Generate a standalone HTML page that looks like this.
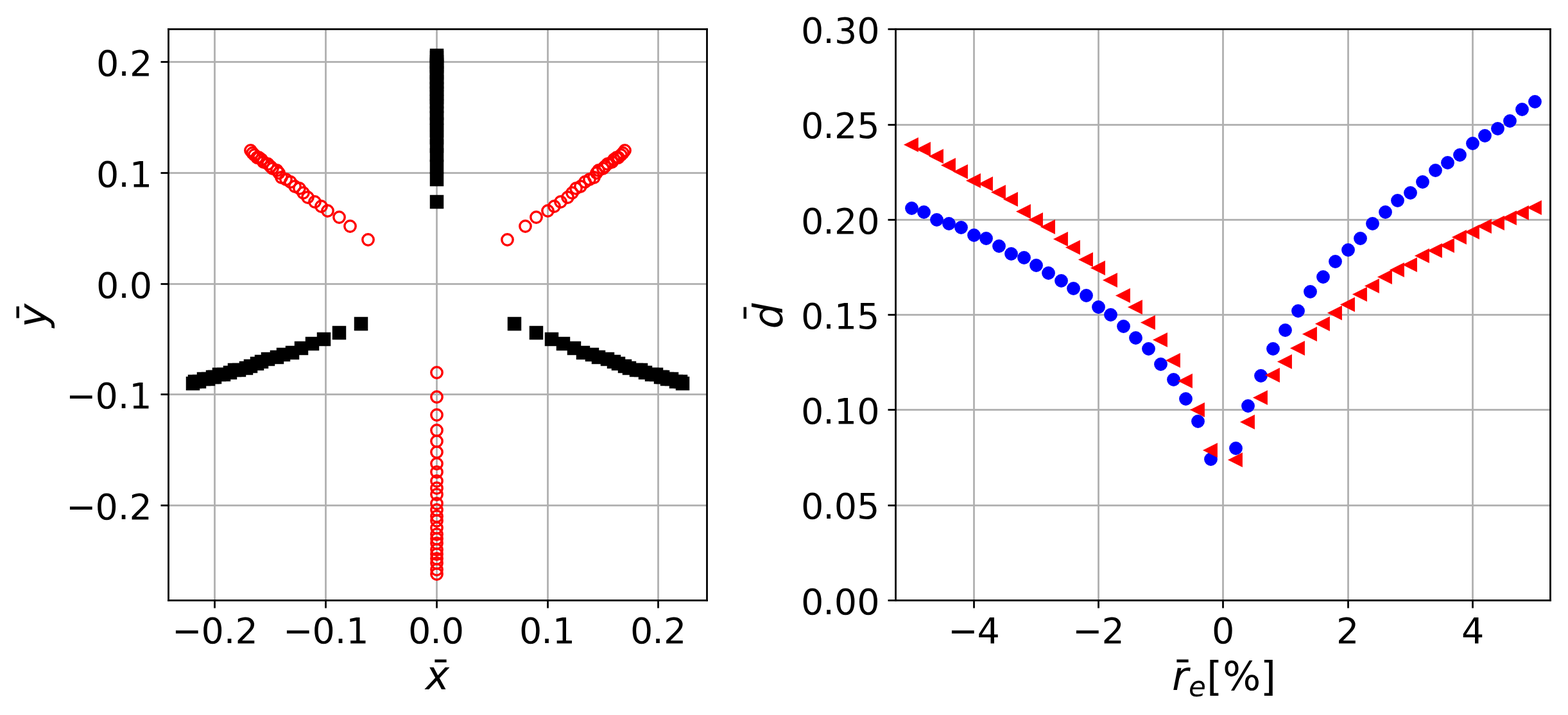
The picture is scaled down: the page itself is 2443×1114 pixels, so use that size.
<!DOCTYPE html>
<html lang="en">
<head>
<meta charset="utf-8">
<title>Figure</title>
<style>html,body{margin:0;padding:0;background:#fff}svg{display:block}text{white-space:pre}</style>
</head>
<body>
<svg xmlns="http://www.w3.org/2000/svg" width="2443" height="1114" viewBox="0 0 2443 1114" font-family="'DejaVu Sans','Liberation Sans',sans-serif" fill="#000">
<defs>
<rect id="sq" x="-10.736" y="-10.736" width="21.472" height="21.472" fill="#000"/>
<circle id="ring" r="8.681" fill="none" stroke="#f00" stroke-width="3.472"/>
<circle id="dot" r="10.417" fill="#00f"/>
<path id="tri" d="M-8.681 0L8.681 -8.681L8.681 8.681Z" fill="#f00" stroke="#f00" stroke-width="3.472" stroke-linejoin="miter" stroke-miterlimit="10"/>
</defs>
<rect x="0" y="0" width="2443" height="1114" fill="#fff"/>
<g id="ax1">
<clipPath id="clip1"><rect x="262.5" y="45.5" width="839" height="890"/></clipPath>
<g clip-path="url(#clip1)" fill="#b0b0b0">
<rect x="333.111" y="45.5" width="2.778" height="890"/>
<rect x="506.111" y="45.5" width="2.778" height="890"/>
<rect x="679.111" y="45.5" width="2.778" height="890"/>
<rect x="852.111" y="45.5" width="2.778" height="890"/>
<rect x="1024.111" y="45.5" width="2.778" height="890"/>
<rect x="262.5" y="786.111" width="839" height="2.778"/>
<rect x="262.5" y="613.111" width="839" height="2.778"/>
<rect x="262.5" y="441.111" width="839" height="2.778"/>
<rect x="262.5" y="268.111" width="839" height="2.778"/>
<rect x="262.5" y="95.111" width="839" height="2.778"/>
</g>
<g fill="#000">
<rect x="333.111" y="935.5" width="2.778" height="12"/>
<rect x="506.111" y="935.5" width="2.778" height="12"/>
<rect x="679.111" y="935.5" width="2.778" height="12"/>
<rect x="852.111" y="935.5" width="2.778" height="12"/>
<rect x="1024.111" y="935.5" width="2.778" height="12"/>
<rect x="250.5" y="786.111" width="12" height="2.778"/>
<rect x="250.5" y="613.111" width="12" height="2.778"/>
<rect x="250.5" y="441.111" width="12" height="2.778"/>
<rect x="250.5" y="268.111" width="12" height="2.778"/>
<rect x="250.5" y="95.111" width="12" height="2.778"/>
</g>
<g clip-path="url(#clip1)">
<g id="squares">
<use href="#sq" x="680.5" y="314.5"/>
<use href="#sq" x="562.5" y="504.5"/>
<use href="#sq" x="801.5" y="504.5"/>
<use href="#sq" x="680.5" y="279.5"/>
<use href="#sq" x="528.5" y="518.5"/>
<use href="#sq" x="835.5" y="518.5"/>
<use href="#sq" x="680.5" y="259.5"/>
<use href="#sq" x="504.5" y="528.5"/>
<use href="#sq" x="859.5" y="528.5"/>
<use href="#sq" x="680.5" y="241.5"/>
<use href="#sq" x="486.5" y="535.5"/>
<use href="#sq" x="877.5" y="535.5"/>
<use href="#sq" x="680.5" y="227.5"/>
<use href="#sq" x="469.5" y="542.5"/>
<use href="#sq" x="894.5" y="542.5"/>
<use href="#sq" x="680.5" y="214.5"/>
<use href="#sq" x="455.5" y="549.5"/>
<use href="#sq" x="908.5" y="549.5"/>
<use href="#sq" x="680.5" y="203.5"/>
<use href="#sq" x="441.5" y="552.5"/>
<use href="#sq" x="922.5" y="552.5"/>
<use href="#sq" x="680.5" y="193.5"/>
<use href="#sq" x="431.5" y="556.5"/>
<use href="#sq" x="932.5" y="556.5"/>
<use href="#sq" x="680.5" y="183.5"/>
<use href="#sq" x="417.5" y="559.5"/>
<use href="#sq" x="946.5" y="559.5"/>
<use href="#sq" x="680.5" y="176.5"/>
<use href="#sq" x="407.5" y="563.5"/>
<use href="#sq" x="956.5" y="563.5"/>
<use href="#sq" x="680.5" y="165.5"/>
<use href="#sq" x="400.5" y="566.5"/>
<use href="#sq" x="963.5" y="566.5"/>
<use href="#sq" x="680.5" y="158.5"/>
<use href="#sq" x="390.5" y="570.5"/>
<use href="#sq" x="973.5" y="570.5"/>
<use href="#sq" x="680.5" y="151.5"/>
<use href="#sq" x="383.5" y="573.5"/>
<use href="#sq" x="980.5" y="573.5"/>
<use href="#sq" x="680.5" y="145.5"/>
<use href="#sq" x="372.5" y="576.5"/>
<use href="#sq" x="991.5" y="576.5"/>
<use href="#sq" x="680.5" y="138.5"/>
<use href="#sq" x="365.5" y="576.5"/>
<use href="#sq" x="998.5" y="576.5"/>
<use href="#sq" x="680.5" y="131.5"/>
<use href="#sq" x="358.5" y="580.5"/>
<use href="#sq" x="1005.5" y="580.5"/>
<use href="#sq" x="680.5" y="127.5"/>
<use href="#sq" x="348.5" y="583.5"/>
<use href="#sq" x="1015.5" y="583.5"/>
<use href="#sq" x="680.5" y="120.5"/>
<use href="#sq" x="341.5" y="583.5"/>
<use href="#sq" x="1022.5" y="583.5"/>
<use href="#sq" x="680.5" y="113.5"/>
<use href="#sq" x="334.5" y="587.5"/>
<use href="#sq" x="1029.5" y="587.5"/>
<use href="#sq" x="680.5" y="110.5"/>
<use href="#sq" x="331.5" y="587.5"/>
<use href="#sq" x="1032.5" y="587.5"/>
<use href="#sq" x="680.5" y="103.5"/>
<use href="#sq" x="324.5" y="590.5"/>
<use href="#sq" x="1039.5" y="590.5"/>
<use href="#sq" x="680.5" y="100.5"/>
<use href="#sq" x="317.5" y="590.5"/>
<use href="#sq" x="1046.5" y="590.5"/>
<use href="#sq" x="680.5" y="96.5"/>
<use href="#sq" x="310.5" y="594.5"/>
<use href="#sq" x="1053.5" y="594.5"/>
<use href="#sq" x="680.5" y="89.5"/>
<use href="#sq" x="303.5" y="594.5"/>
<use href="#sq" x="1060.5" y="594.5"/>
<use href="#sq" x="680.5" y="86.5"/>
<use href="#sq" x="300.5" y="597.5"/>
<use href="#sq" x="1063.5" y="597.5"/>
</g>
<g id="rings">
<use href="#ring" x="680.5" y="580.5"/>
<use href="#ring" x="573.5" y="373.5"/>
<use href="#ring" x="790.5" y="373.5"/>
<use href="#ring" x="680.5" y="618.5"/>
<use href="#ring" x="545.5" y="352.5"/>
<use href="#ring" x="818.5" y="352.5"/>
<use href="#ring" x="680.5" y="646.5"/>
<use href="#ring" x="528.5" y="338.5"/>
<use href="#ring" x="835.5" y="338.5"/>
<use href="#ring" x="680.5" y="670.5"/>
<use href="#ring" x="510.5" y="328.5"/>
<use href="#ring" x="853.5" y="328.5"/>
<use href="#ring" x="680.5" y="687.5"/>
<use href="#ring" x="500.5" y="321.5"/>
<use href="#ring" x="863.5" y="321.5"/>
<use href="#ring" x="680.5" y="704.5"/>
<use href="#ring" x="490.5" y="314.5"/>
<use href="#ring" x="873.5" y="314.5"/>
<use href="#ring" x="680.5" y="722.5"/>
<use href="#ring" x="479.5" y="307.5"/>
<use href="#ring" x="884.5" y="307.5"/>
<use href="#ring" x="680.5" y="735.5"/>
<use href="#ring" x="472.5" y="300.5"/>
<use href="#ring" x="891.5" y="300.5"/>
<use href="#ring" x="680.5" y="749.5"/>
<use href="#ring" x="466.5" y="293.5"/>
<use href="#ring" x="897.5" y="293.5"/>
<use href="#ring" x="680.5" y="760.5"/>
<use href="#ring" x="459.5" y="290.5"/>
<use href="#ring" x="904.5" y="290.5"/>
<use href="#ring" x="680.5" y="770.5"/>
<use href="#ring" x="452.5" y="283.5"/>
<use href="#ring" x="911.5" y="283.5"/>
<use href="#ring" x="680.5" y="784.5"/>
<use href="#ring" x="445.5" y="279.5"/>
<use href="#ring" x="918.5" y="279.5"/>
<use href="#ring" x="680.5" y="794.5"/>
<use href="#ring" x="438.5" y="276.5"/>
<use href="#ring" x="925.5" y="276.5"/>
<use href="#ring" x="680.5" y="804.5"/>
<use href="#ring" x="434.5" y="269.5"/>
<use href="#ring" x="929.5" y="269.5"/>
<use href="#ring" x="680.5" y="811.5"/>
<use href="#ring" x="431.5" y="265.5"/>
<use href="#ring" x="932.5" y="265.5"/>
<use href="#ring" x="680.5" y="822.5"/>
<use href="#ring" x="424.5" y="262.5"/>
<use href="#ring" x="939.5" y="262.5"/>
<use href="#ring" x="680.5" y="832.5"/>
<use href="#ring" x="421.5" y="259.5"/>
<use href="#ring" x="942.5" y="259.5"/>
<use href="#ring" x="680.5" y="839.5"/>
<use href="#ring" x="417.5" y="255.5"/>
<use href="#ring" x="946.5" y="255.5"/>
<use href="#ring" x="680.5" y="846.5"/>
<use href="#ring" x="410.5" y="252.5"/>
<use href="#ring" x="953.5" y="252.5"/>
<use href="#ring" x="680.5" y="856.5"/>
<use href="#ring" x="407.5" y="248.5"/>
<use href="#ring" x="956.5" y="248.5"/>
<use href="#ring" x="680.5" y="863.5"/>
<use href="#ring" x="403.5" y="245.5"/>
<use href="#ring" x="960.5" y="245.5"/>
<use href="#ring" x="680.5" y="870.5"/>
<use href="#ring" x="400.5" y="245.5"/>
<use href="#ring" x="963.5" y="245.5"/>
<use href="#ring" x="680.5" y="877.5"/>
<use href="#ring" x="396.5" y="241.5"/>
<use href="#ring" x="967.5" y="241.5"/>
<use href="#ring" x="680.5" y="887.5"/>
<use href="#ring" x="393.5" y="238.5"/>
<use href="#ring" x="970.5" y="238.5"/>
<use href="#ring" x="680.5" y="894.5"/>
<use href="#ring" x="390.5" y="234.5"/>
<use href="#ring" x="973.5" y="234.5"/>
</g>
</g>
<g fill="#000">
<rect x="261.111" y="44.111" width="2.778" height="892.778"/>
<rect x="1100.111" y="44.111" width="2.778" height="892.778"/>
<rect x="261.111" y="934.111" width="841.778" height="2.778"/>
<rect x="261.111" y="44.111" width="841.778" height="2.778"/>
</g>
</g>
<g id="ax2">
<clipPath id="clip2"><rect x="1395.5" y="45.5" width="1020" height="890"/></clipPath>
<g clip-path="url(#clip2)" fill="#b0b0b0">
<rect x="1516.111" y="45.5" width="2.778" height="890"/>
<rect x="1710.111" y="45.5" width="2.778" height="890"/>
<rect x="1904.111" y="45.5" width="2.778" height="890"/>
<rect x="2099.111" y="45.5" width="2.778" height="890"/>
<rect x="2293.111" y="45.5" width="2.778" height="890"/>
<rect x="1395.5" y="934.111" width="1020" height="2.778"/>
<rect x="1395.5" y="786.111" width="1020" height="2.778"/>
<rect x="1395.5" y="637.111" width="1020" height="2.778"/>
<rect x="1395.5" y="489.111" width="1020" height="2.778"/>
<rect x="1395.5" y="341.111" width="1020" height="2.778"/>
<rect x="1395.5" y="193.111" width="1020" height="2.778"/>
<rect x="1395.5" y="44.111" width="1020" height="2.778"/>
</g>
<g fill="#000">
<rect x="1516.111" y="935.5" width="2.778" height="12"/>
<rect x="1710.111" y="935.5" width="2.778" height="12"/>
<rect x="1904.111" y="935.5" width="2.778" height="12"/>
<rect x="2099.111" y="935.5" width="2.778" height="12"/>
<rect x="2293.111" y="935.5" width="2.778" height="12"/>
<rect x="1383.5" y="934.111" width="12" height="2.778"/>
<rect x="1383.5" y="786.111" width="12" height="2.778"/>
<rect x="1383.5" y="637.111" width="12" height="2.778"/>
<rect x="1383.5" y="489.111" width="12" height="2.778"/>
<rect x="1383.5" y="341.111" width="12" height="2.778"/>
<rect x="1383.5" y="193.111" width="12" height="2.778"/>
<rect x="1383.5" y="44.111" width="12" height="2.778"/>
</g>
<g clip-path="url(#clip2)">
<g id="dots">
<use href="#dot" x="1420.5" y="324.5"/>
<use href="#dot" x="1439.5" y="330.5"/>
<use href="#dot" x="1459.5" y="342.5"/>
<use href="#dot" x="1478.5" y="348.5"/>
<use href="#dot" x="1497.5" y="354.5"/>
<use href="#dot" x="1517.5" y="366.5"/>
<use href="#dot" x="1536.5" y="371.5"/>
<use href="#dot" x="1556.5" y="383.5"/>
<use href="#dot" x="1575.5" y="395.5"/>
<use href="#dot" x="1595.5" y="401.5"/>
<use href="#dot" x="1614.5" y="413.5"/>
<use href="#dot" x="1633.5" y="425.5"/>
<use href="#dot" x="1653.5" y="437.5"/>
<use href="#dot" x="1672.5" y="449.5"/>
<use href="#dot" x="1692.5" y="460.5"/>
<use href="#dot" x="1711.5" y="478.5"/>
<use href="#dot" x="1730.5" y="490.5"/>
<use href="#dot" x="1750.5" y="508.5"/>
<use href="#dot" x="1769.5" y="526.5"/>
<use href="#dot" x="1789.5" y="543.5"/>
<use href="#dot" x="1808.5" y="567.5"/>
<use href="#dot" x="1828.5" y="591.5"/>
<use href="#dot" x="1847.5" y="621.5"/>
<use href="#dot" x="1866.5" y="656.5"/>
<use href="#dot" x="1886.5" y="715.5"/>
<use href="#dot" x="1925.5" y="698.5"/>
<use href="#dot" x="1944.5" y="632.5"/>
<use href="#dot" x="1964.5" y="585.5"/>
<use href="#dot" x="1983.5" y="543.5"/>
<use href="#dot" x="2002.5" y="514.5"/>
<use href="#dot" x="2022.5" y="484.5"/>
<use href="#dot" x="2041.5" y="454.5"/>
<use href="#dot" x="2061.5" y="431.5"/>
<use href="#dot" x="2080.5" y="407.5"/>
<use href="#dot" x="2100.5" y="389.5"/>
<use href="#dot" x="2119.5" y="371.5"/>
<use href="#dot" x="2138.5" y="348.5"/>
<use href="#dot" x="2158.5" y="330.5"/>
<use href="#dot" x="2177.5" y="312.5"/>
<use href="#dot" x="2197.5" y="300.5"/>
<use href="#dot" x="2216.5" y="283.5"/>
<use href="#dot" x="2236.5" y="265.5"/>
<use href="#dot" x="2255.5" y="253.5"/>
<use href="#dot" x="2274.5" y="241.5"/>
<use href="#dot" x="2294.5" y="223.5"/>
<use href="#dot" x="2313.5" y="211.5"/>
<use href="#dot" x="2333.5" y="200.5"/>
<use href="#dot" x="2352.5" y="188.5"/>
<use href="#dot" x="2371.5" y="170.5"/>
<use href="#dot" x="2391.5" y="158.5"/>
</g>
<g id="tris">
<use href="#tri" x="1420.5" y="225.5"/>
<use href="#tri" x="1439.5" y="232.5"/>
<use href="#tri" x="1459.5" y="243.5"/>
<use href="#tri" x="1478.5" y="257.5"/>
<use href="#tri" x="1497.5" y="267.5"/>
<use href="#tri" x="1517.5" y="281.5"/>
<use href="#tri" x="1536.5" y="286.5"/>
<use href="#tri" x="1556.5" y="299.5"/>
<use href="#tri" x="1575.5" y="310.5"/>
<use href="#tri" x="1595.5" y="329.5"/>
<use href="#tri" x="1614.5" y="342.5"/>
<use href="#tri" x="1633.5" y="353.5"/>
<use href="#tri" x="1653.5" y="372.5"/>
<use href="#tri" x="1672.5" y="385.5"/>
<use href="#tri" x="1692.5" y="404.5"/>
<use href="#tri" x="1711.5" y="417.5"/>
<use href="#tri" x="1730.5" y="436.5"/>
<use href="#tri" x="1750.5" y="460.5"/>
<use href="#tri" x="1769.5" y="478.5"/>
<use href="#tri" x="1789.5" y="502.5"/>
<use href="#tri" x="1808.5" y="529.5"/>
<use href="#tri" x="1828.5" y="561.5"/>
<use href="#tri" x="1847.5" y="593.5"/>
<use href="#tri" x="1866.5" y="638.5"/>
<use href="#tri" x="1886.5" y="701.5"/>
<use href="#tri" x="1925.5" y="716.5"/>
<use href="#tri" x="1944.5" y="657.5"/>
<use href="#tri" x="1964.5" y="619.5"/>
<use href="#tri" x="1983.5" y="584.5"/>
<use href="#tri" x="2002.5" y="563.5"/>
<use href="#tri" x="2022.5" y="542.5"/>
<use href="#tri" x="2041.5" y="520.5"/>
<use href="#tri" x="2061.5" y="504.5"/>
<use href="#tri" x="2080.5" y="487.5"/>
<use href="#tri" x="2100.5" y="474.5"/>
<use href="#tri" x="2119.5" y="458.5"/>
<use href="#tri" x="2138.5" y="445.5"/>
<use href="#tri" x="2158.5" y="431.5"/>
<use href="#tri" x="2177.5" y="420.5"/>
<use href="#tri" x="2197.5" y="412.5"/>
<use href="#tri" x="2216.5" y="398.5"/>
<use href="#tri" x="2236.5" y="390.5"/>
<use href="#tri" x="2255.5" y="382.5"/>
<use href="#tri" x="2274.5" y="369.5"/>
<use href="#tri" x="2294.5" y="361.5"/>
<use href="#tri" x="2313.5" y="352.5"/>
<use href="#tri" x="2333.5" y="347.5"/>
<use href="#tri" x="2352.5" y="339.5"/>
<use href="#tri" x="2371.5" y="331.5"/>
<use href="#tri" x="2391.5" y="323.5"/>
</g>
</g>
<g fill="#000">
<rect x="1394.111" y="44.111" width="2.778" height="892.778"/>
<rect x="2414.111" y="44.111" width="2.778" height="892.778"/>
<rect x="1394.111" y="934.111" width="1022.778" height="2.778"/>
<rect x="1394.111" y="44.111" width="1022.778" height="2.778"/>
</g>
</g>
<g id="ticklabels" font-size="55.556">
<text id="x1_0" x="268 313.5 348.75 366.5" y="1002">−0.2</text>
<text id="x1_1" x="441 486.5 521.75 539.25" y="1002">−0.1</text>
<text id="x1_2" x="636 670.25 687.75" y="1002">0.0</text>
<text id="x1_3" x="809 843.25 860.75" y="1002">0.1</text>
<text id="x1_4" x="982 1016.25 1034" y="1002">0.2</text>
<text id="x2_0" x="1477 1522.5" y="1002">−4</text>
<text id="x2_1" x="1671 1716.5" y="1002">−2</text>
<text id="x2_2" x="1888" y="1002">0</text>
<text id="x2_3" x="2082" y="1002">2</text>
<text id="x2_4" x="2277" y="1002">4</text>
<text id="y1_0" x="103 148.5 183.75 201.5" y="809">−0.2</text>
<text id="y1_1" x="103 148.5 183.75 201.25" y="636">−0.1</text>
<text id="y1_2" x="150 184.25 201.75" y="464">0.0</text>
<text id="y1_3" x="150 184.25 201.75" y="291">0.1</text>
<text id="y1_4" x="150 184.25 202" y="118">0.2</text>
<text id="y2_0" x="1248 1282.25 1299.75 1335.25" y="957">0.00</text>
<text id="y2_1" x="1248 1282.25 1299.75 1335" y="808">0.05</text>
<text id="y2_2" x="1248 1282.25 1299.75 1335.25" y="660">0.10</text>
<text id="y2_3" x="1248 1282.25 1299.75 1335" y="512">0.15</text>
<text id="y2_4" x="1248 1282.25 1300 1335.25" y="364">0.20</text>
<text id="y2_5" x="1248 1282.25 1300 1335.25" y="215">0.25</text>
<text id="y2_6" x="1248 1282.25 1300 1335.25" y="67">0.30</text>
</g>
<g id="xlabel1" transform="translate(662.767 1074.204)">
<text x="0.27" y="-0.036" font-size="62.5" font-style="oblique">x</text>
<text x="39.199" y="-0.192" font-size="62.5">̄</text>
</g>
<g id="ylabel1" transform="translate(75.346 508.851) rotate(-90)">
<text x="-1.32" y="-3.046" font-size="62.5" font-style="oblique">y</text>
<text x="37.959" y="-3.182" font-size="62.5">̄</text>
</g>
<g id="xlabel2" transform="translate(1823.737 1074.204)">
<text x="2.17" y="1.051" font-size="62.5" font-style="oblique">r</text>
<text x="34.164" y="-0.019" font-size="62.5">̄</text>
<text x="28.304" y="11.225" font-size="43.75" font-style="oblique">e</text>
<text x="56.269" y="0.861" font-size="62.5">[</text>
<text x="81.333" y="0.811" font-size="62.5">%</text>
<text x="140.01" y="0.861" font-size="62.5">]</text>
</g>
<g id="ylabel2" transform="translate(1220.53 510.101) rotate(-90)">
<text x="-2.11" y="-2.743" font-size="62.5" font-style="oblique">d</text>
<text x="38.102" y="-15.191" font-size="62.5">̄</text>
</g>
</svg>
</body>
</html>
